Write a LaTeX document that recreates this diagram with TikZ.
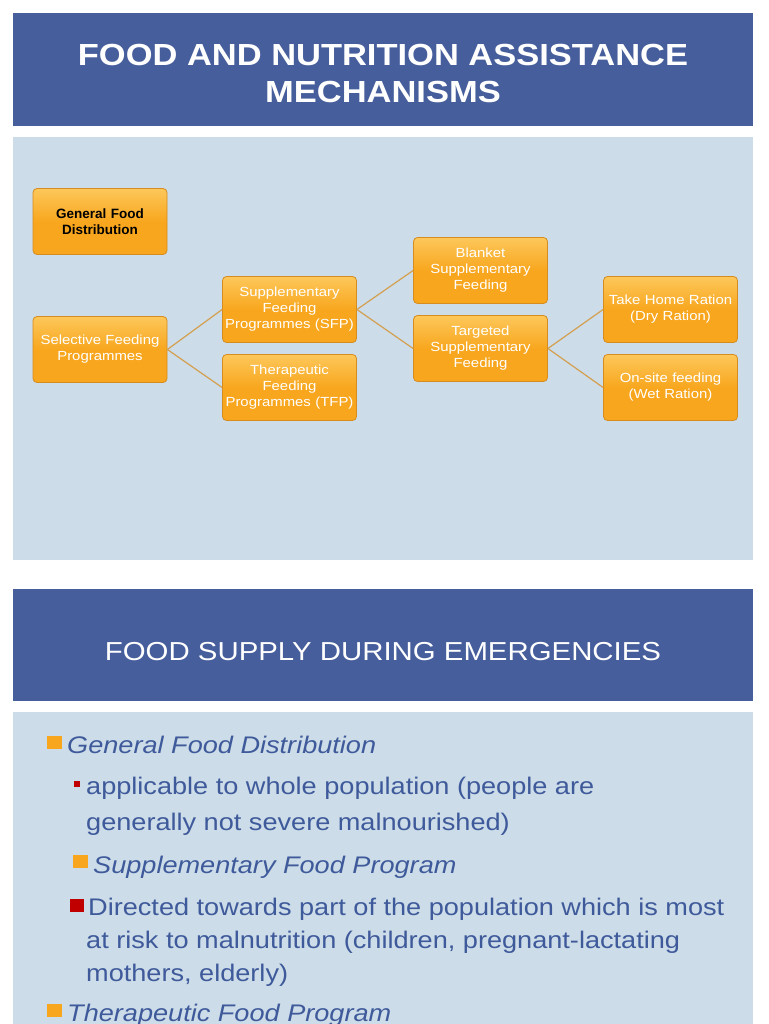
\documentclass[tikz,border=0pt]{standalone}
\usepackage{fontspec}
\setmainfont[FakeStretch=1.13]{Liberation Sans}
\newfontfamily\gfdfont{Liberation Sans}
\definecolor{hdr}{RGB}{70,94,155}
\definecolor{pnl}{RGB}{204,220,232}
\definecolor{org}{RGB}{248,166,30}
\definecolor{orgl}{RGB}{253,200,90}
\definecolor{orgd}{RGB}{214,140,30}
\definecolor{txt}{RGB}{63,90,155}
\definecolor{lnk}{RGB}{212,160,80}
\definecolor{bred}{RGB}{192,0,0}
\begin{document}
\begin{tikzpicture}[x=1pt,y=-1pt,
  box/.style={draw=orgd,line width=0.8pt,rounded corners=4pt,top color=orgl,bottom color=org,middle color=org,
    minimum width=134pt,minimum height=66pt,text width=132pt,align=center,text=white,
    font=\fontsize{13.2}{16}\selectfont,inner sep=1pt},
  link/.style={draw=lnk,line width=1.2pt},
  bul/.style={font=\fontsize{24}{33}\selectfont,text=txt,anchor=west,inner sep=0pt}]
\useasboundingbox (0,0) rectangle (768,1024);
\fill[white] (0,0) rectangle (768,1024);
\fill[hdr] (13,13) rectangle (753,126);
\node[text=white,font=\bfseries\fontsize{30.5}{37}\selectfont,align=center] (t1) at (383,74) {FOOD AND NUTRITION ASSISTANCE\\MECHANISMS};
\fill[pnl] (13,137) rectangle (753,560);
\node[box,text=black,font=\gfdfont\bfseries\fontsize{13.5}{16}\selectfont] (gfd) at (100,221.5) {General Food\\Distribution};
\node[box] (sel) at (100,349.5) {Selective Feeding\\Programmes};
\node[box] (sfp) at (289.5,309.5) {Supplementary\\Feeding\\Programmes (SFP)};
\node[box] (tfp) at (289.5,387.5) {Therapeutic\\Feeding\\Programmes (TFP)};
\node[box] (bl) at (480.5,270.5) {Blanket\\Supplementary\\Feeding};
\node[box] (tg) at (480.5,348.5) {Targeted\\Supplementary\\Feeding};
\node[box] (th) at (670.5,309.5) {Take Home Ration\\(Dry Ration)};
\node[box] (os) at (670.5,387.5) {On-site feeding\\(Wet Ration)};
\draw[link] (sel.east) -- (sfp.west);
\draw[link] (sel.east) -- (tfp.west);
\draw[link] (sfp.east) -- (bl.west);
\draw[link] (sfp.east) -- (tg.west);
\draw[link] (tg.east) -- (th.west);
\draw[link] (tg.east) -- (os.west);
\fill[hdr] (13,589) rectangle (753,701);
\node[text=white,font=\fontsize{26}{34}\selectfont] (t2) at (383,652) {FOOD SUPPLY DURING EMERGENCIES};
\fill[pnl] (13,712) rectangle (753,1030);
\fill[org] (47,736) rectangle (62,749);
\node[bul] (b1) at (67,745) {\itshape General Food Distribution};
\fill[bred] (74,781) rectangle (80,787);
\node[bul] (b2) at (86,788) {applicable to whole population (people are};
\node[bul] (b2b) at (86,824) {generally not severe malnourished)};
\fill[org] (73,855) rectangle (88,868);
\node[bul] (b3) at (93,867) {\itshape Supplementary Food Program};
\fill[bred] (70,899) rectangle (84,912);
\node[bul] (b4) at (88,909) {Directed towards part of the population which is most};
\node[bul] (b4b) at (86,942) {at risk to malnutrition (children, pregnant-lactating};
\node[bul] (b4c) at (86,975) {mothers, elderly)};
\fill[org] (47,1004) rectangle (62,1017);
\node[bul] (b5) at (67,1015) {\itshape Therapeutic Food Program};
\end{tikzpicture}
\end{document}
